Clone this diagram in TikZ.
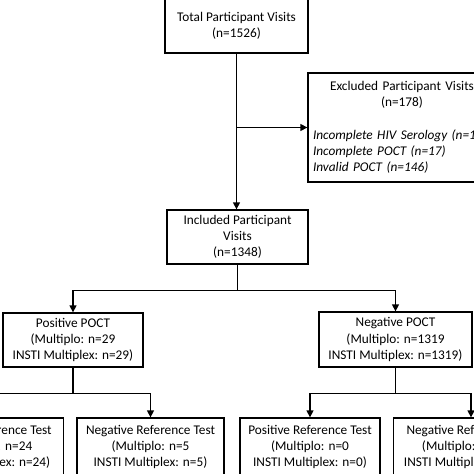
\documentclass[tikz,border=0pt]{standalone}
\usepackage{fontspec}
\setmainfont{Carlito}
\usetikzlibrary{arrows.meta}

\begin{document}
\begin{tikzpicture}[x = 1pt, y = -1pt,
    box/.style = {draw, line width = 1.3pt, fill = white, align = center, inner sep = 0pt,
                  font = \fontsize{13.3}{16.3}\selectfont},
    flow/.style = {line width = 1.3pt, -{Triangle[length = 7pt, width = 7pt]}}]
    \useasboundingbox (0,0) rectangle (474,474);
    \clip (0,0) rectangle (474,474);

    % top of the chart
    \node[box, minimum width = 143pt, minimum height = 54pt] (total) at (236.5,26) {Total Participant Visits\\(n=1526)};
    \node[box, minimum width = 188pt, minimum height = 109pt, text width = 178pt, align = left] (excl) at (402,127.5)
        {{\centering Excluded Participant Visits\\(n=178)\par}\vspace{16pt}
         {\itshape Incomplete HIV Serology (n=15)\\Incomplete POCT (n=17)\\Invalid POCT (n=146)}};
    \node[box, minimum width = 141pt, minimum height = 54pt] (incl) at (237.5,237) {Included Participant\\Visits\\(n=1348)};

    % POCT result
    \node[box, minimum width = 140pt, minimum height = 54pt] (pos) at (73,340) {Positive POCT\\(Multiplo: n=29\\INSTI Multiplex: n=29)};
    \node[box, minimum width = 153pt, minimum height = 55pt] (neg) at (395.5,339.5) {Negative POCT\\(Multiplo: n=1319\\INSTI Multiplex: n=1319)};

    % reference test
    \node[box, minimum width = 147pt, minimum height = 58pt] (posref1) at (-10,447) {Positive Reference Test\\(Multiplo: n=24\\INSTI Multiplex: n=24)};
    \node[box, minimum width = 147pt, minimum height = 58pt] (negref1) at (150.5,447) {Negative Reference Test\\(Multiplo: n=5\\INSTI Multiplex: n=5)};
    \node[box, minimum width = 140pt, minimum height = 58pt] (posref2) at (310,447) {Positive Reference Test\\(Multiplo: n=0\\INSTI Multiplex: n=0)};
    \node[box, minimum width = 155pt, minimum height = 58pt] (negref2) at (471,447) {Negative Reference Test\\(Multiplo: n=1319\\INSTI Multiplex: n=1319)};

    \draw[flow] (total.south) -- (total.south |- incl.north);
    \draw[flow] (total.south |- excl.west) -- (excl.west);

    \draw[flow] (incl.south) -- ++(0,26) -| (pos.north);
    \draw[flow] (incl.south) -- ++(0,26) -| (neg.north);

    \draw[flow] (pos.south) -- ++(0,26) -| (posref1.north);
    \draw[flow] (pos.south) -- ++(0,26) -| (negref1.north);
    \draw[flow] (neg.south) -- ++(0,26) -| (posref2.north);
    \draw[flow] (neg.south) -- ++(0,26) -| (negref2.north);
\end{tikzpicture}
\end{document}
